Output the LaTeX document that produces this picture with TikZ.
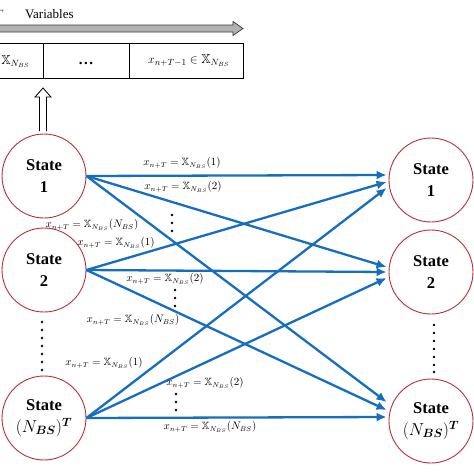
\documentclass[tikz,border=0pt]{standalone}
\usepackage{amsmath,amssymb,bm}
\usepackage{fontspec}
\setmainfont{Liberation Serif}
\usetikzlibrary{calc,arrows.meta}
\definecolor{arrowblue}{RGB}{22,110,190}
\definecolor{circred}{RGB}{180,50,62}
\begin{document}
\begin{tikzpicture}[x=1pt,y=-1pt,
  statenode/.style={circle, draw=circred, line width=0.9pt, minimum size=84pt, inner sep=0pt, align=center, font=\bfseries\fontsize{16.5}{22}\selectfont},
  trans/.style={draw=arrowblue, line width=2.3pt, -{Latex[length=10pt,width=9pt]}},
  lbl/.style={font=\fontsize{10.5}{12}\selectfont, inner sep=0.5pt},
  cell/.style={draw=black, line width=0.9pt, minimum height=35pt, inner sep=0pt, font=\fontsize{13}{15}\selectfont},
  vdot/.style={fill=black}
]
\clip (0,0) rectangle (474,474);
\fill[white] (0,0) rectangle (474,474);

% top title
\node[anchor=base west, inner sep=0pt, font=\fontsize{13}{15}\selectfont] (title) at (25,18) {\llap{$T$\hspace{21.5pt}}Variables};
% gray arrow
\filldraw[fill=gray!60, draw=gray!45!black, line width=0.7pt]
  (-5,25) -- (233,25) -- (233,21.5) -- (243,28.5) -- (233,35.5) -- (233,32) -- (-5,32) -- cycle;

% cells
\node[cell, minimum width=113pt] (c1) at (-13.5,60.5) {};
\node[anchor=east, inner sep=0pt, font=\fontsize{13}{15}\selectfont] (t1) at (30,62) {$x_{n}\in\mathbb{X}_{N_{BS}}$};
\node[cell, minimum width=86pt] (c2) at (86,60.5) {};
\node[inner sep=0pt, font=\bfseries\fontsize{15}{17}\selectfont] (t2) at (86,63) {.\kern1.5pt.\kern1.5pt.};
\node[cell, minimum width=114pt] (c3) at (186,60.5) {};
\node[inner sep=0pt, font=\fontsize{13}{15}\selectfont] (t3) at (189,61) {$x_{n+T-1}\in\mathbb{X}_{N_{BS}}$};

% hollow up arrow
\draw[fill=white, line width=0.8pt] (39.5,131) -- (39.5,97) -- (35,97) -- (43,88) -- (51,97) -- (46.5,97) -- (46.5,131);

% states
\node[statenode] (L1) at (44,176) {State\\1};
\node[statenode] (L2) at (44,270) {State\\2};
\node[statenode] (LN) at (44,418) {State\\$(N_{\bm{BS}})^{\bm{T}}$};
\node[statenode] (R1) at (431,180) {State\\1};
\node[statenode] (R2) at (431,272) {State\\2};
\node[statenode] (RN) at (431,421) {State\\$(N_{\bm{BS}})^{\bm{T}}$};

% transitions
\draw[trans] (L1.east) -- ($(R1.west)+(-2,-5)$);
\draw[trans] (L1.east) -- ($(R2.west)+(-2,-5)$);
\draw[trans] (L1.east) -- ($(RN.west)+(-2,-19)$);
\draw[trans] (L2.east) -- ($(R1.west)+(-2,2)$);
\draw[trans] (L2.east) -- ($(R2.west)+(-2,0)$);
\draw[trans] (L2.east) -- ($(RN.west)+(-2,-11)$);
\draw[trans] (LN.east) -- ($(R1.west)+(-2,8)$);
\draw[trans] (LN.east) -- ($(R2.west)+(-2,6)$);
\draw[trans] (LN.east) -- ($(RN.west)+(-2,-4)$);

% labels
\node[lbl] (a1) at (182,163) {$x_{n+T}=\mathbb{X}_{N_{BS}}(1)$};
\node[lbl] (a2) at (183,187) {$x_{n+T}=\mathbb{X}_{N_{BS}}(2)$};
\node[lbl] (a3) at (92,225) {$x_{n+T}=\mathbb{X}_{N_{BS}}(N_{BS})$};
\node[lbl] (b1) at (116,243) {$x_{n+T}=\mathbb{X}_{N_{BS}}(1)$};
\node[lbl] (b2) at (165,279) {$x_{n+T}=\mathbb{X}_{N_{BS}}(2)$};
\node[lbl] (b3) at (133,320) {$x_{n+T}=\mathbb{X}_{N_{BS}}(N_{BS})$};
\node[lbl] (n1) at (104,363) {$x_{n+T}=\mathbb{X}_{N_{BS}}(1)$};
\node[lbl] (n2) at (205,383) {$x_{n+T}=\mathbb{X}_{N_{BS}}(2)$};
\node[lbl] (n3) at (210,427) {$x_{n+T}=\mathbb{X}_{N_{BS}}(N_{BS})$};

% dots
\foreach \y in {215,223,231} \fill[vdot] (172,\y) circle (1.4);
\foreach \y in {290,298,306} \fill[vdot] (175,\y) circle (1.4);
\foreach \y in {394,402,410} \fill[vdot] (176,\y) circle (1.4);
\foreach \y in {322,330,338,346,354,362,370} \fill[vdot] (42,\y) circle (1.4);
\foreach \y in {325,333,341,349,357,365,372} \fill[vdot] (434,\y) circle (1.4);
\end{tikzpicture}
\end{document}
